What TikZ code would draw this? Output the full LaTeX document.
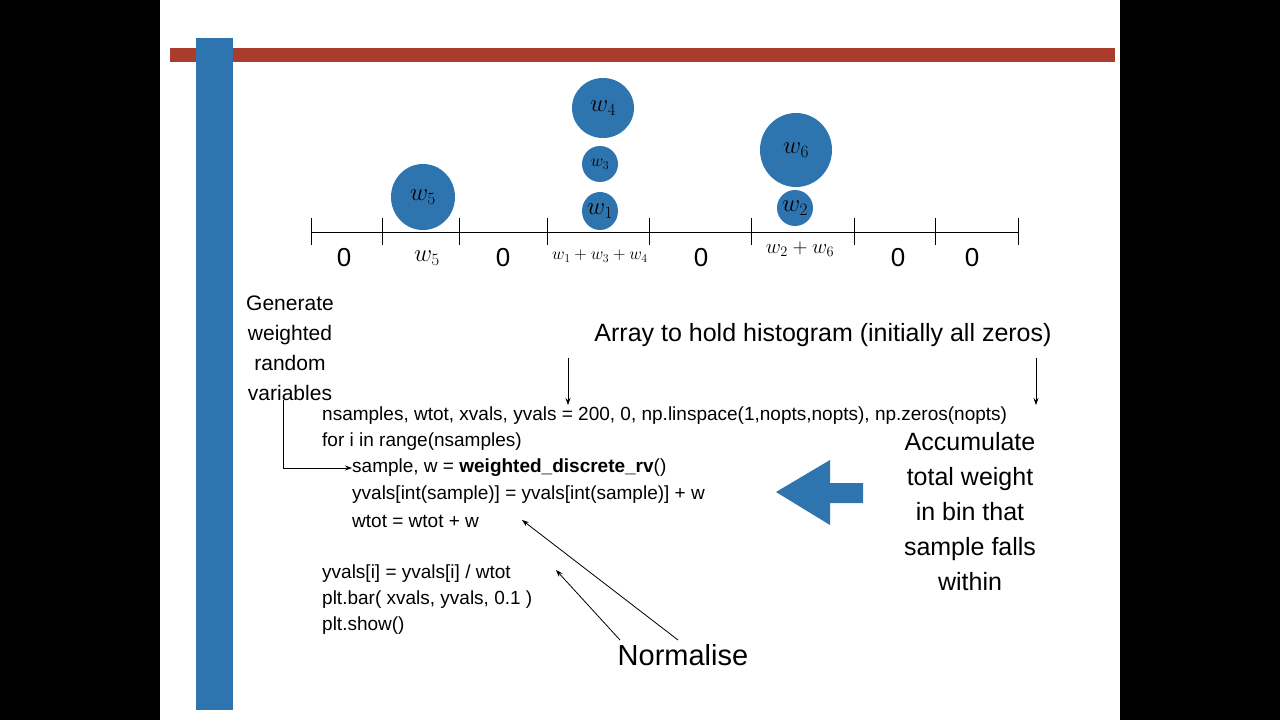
\documentclass[tikz,border=0pt]{standalone}
\usepackage{fontspec}
\setmainfont{Liberation Sans}
\usetikzlibrary{arrows.meta}
\definecolor{bl}{RGB}{46,117,175}
\definecolor{rd}{RGB}{170,60,45}
\tikzset{ball/.style={fill=bl,draw=none,ellipse},
 code/.style={anchor=west,font=\fontsize{19}{19}\selectfont,inner sep=0},
 big/.style={font=\fontsize{25}{30}\selectfont,align=center},
 lab/.style={font=\fontsize{26}{26}\selectfont},
 ar/.style={-{Stealth[length=7pt,width=5pt]},line width=0.8pt}}
\usetikzlibrary{shapes.geometric}
\begin{document}
\begin{tikzpicture}[x=1pt,y=-1pt]
\useasboundingbox (0,0) rectangle (1280,720);
\fill[black] (0,0) rectangle (160,720);
\fill[black] (1120,0) rectangle (1280,720);
\fill[white] (160,0) rectangle (1120,720);
\fill[rd] (170,48) rectangle (1115,62);
\fill[bl] (196,38) rectangle (233,710);
% axis
\draw[line width=1pt] (311,232) -- (1018,232);
\foreach \x in {311,382,459,547,649,751,854,935,1018} \draw[line width=1pt] (\x,218) -- (\x,245);
\node[ball,minimum width=64pt,minimum height=66pt] (b5) at (423,197) {};
\node[ball,minimum width=62pt,minimum height=60pt] (b4) at (603,108) {};
\node[ball,minimum width=36pt,minimum height=36pt] (b3) at (600,164) {};
\node[ball,minimum width=36pt,minimum height=38pt] (b1) at (600,211) {};
\node[ball,minimum width=72pt,minimum height=74pt] (b6) at (796,150) {};
\node[ball,minimum width=36pt,minimum height=36pt] (b2) at (795,208) {};
\node[lab] at (b5) {$w_5$};
\node[lab] at (b4) {$w_4$};
\node[font=\fontsize{18}{18}\selectfont] at (b3) {$w_3$};
\node[lab] at (b1) {$w_1$};
\node[lab] at (b6) {$w_6$};
\node[lab] at (b2) {$w_2$};
\node[lab] (z1) at (344,258) {0};
\node[lab] (l5) at (427,258) {$w_5$};
\node[lab] (z2) at (503,258) {0};
\node[font=\fontsize{17}{17}\selectfont] (l134) at (600,256) {$w_1+w_3+w_4$};
\node[lab] (z3) at (701,258) {0};
\node[font=\fontsize{22}{22}\selectfont] (l26) at (800,249) {$w_2+w_6$};
\node[lab] (z4) at (898,258) {0};
\node[lab] (z5) at (972,258) {0};
% texts
\node[big,font=\fontsize{21}{30}\selectfont] (gen) at (290,348) {Generate\\weighted\\random\\variables};
\node[big] (arr) at (823,335) {Array to hold histogram (initially all zeros)};
\node[big,font=\fontsize{25}{35}\selectfont] (acc) at (970,512) {Accumulate\\total weight\\in bin that\\sample falls\\within};
\node[big,font=\fontsize{29}{30}\selectfont] (norm) at (683,655) {Normalise};
% code
\node[code] (c1) at (322,416) {nsamples, wtot, xvals, yvals = 200, 0, np.linspace(1,nopts,nopts), np.zeros(nopts)};
\node[code] (c2) at (322,442) {for i in range(nsamples)};
\node[code] (c3) at (352,468) {sample, w = \textbf{weighted\_discrete\_rv}()};
\node[code] (c4) at (352,495) {yvals[int(sample)] = yvals[int(sample)] + w};
\node[code] (c5) at (352,521) {wtot = wtot + w};
\node[code] (c6) at (322,574) {yvals[i] = yvals[i] / wtot};
\node[code] (c7) at (322,600) {plt.bar( xvals, yvals, 0.1 )};
\node[code] (c8) at (322,626) {plt.show()};
% arrows
\coordinate (g0) at (283,400);
\draw[ar] (g0) |- (c3.west);
\coordinate (a1) at (568,358); \coordinate (a1e) at (568,405);
\coordinate (a2) at (1036,358); \coordinate (a2e) at (1036,405);
\draw[ar] (a1) -- (a1e);
\draw[ar] (a2) -- (a2e);
\coordinate (n1) at (678,640); \coordinate (n1e) at (522,520);
\coordinate (n2) at (620,640); \coordinate (n2e) at (556,570);
\draw[ar] (n1) -- (n1e);
\draw[ar] (n2) -- (n2e);
\fill[bl] (776,492) -- (830,460) -- (830,483) -- (863,483) -- (863,503) -- (830,503) -- (830,525) -- cycle;
\end{tikzpicture}
\end{document}
